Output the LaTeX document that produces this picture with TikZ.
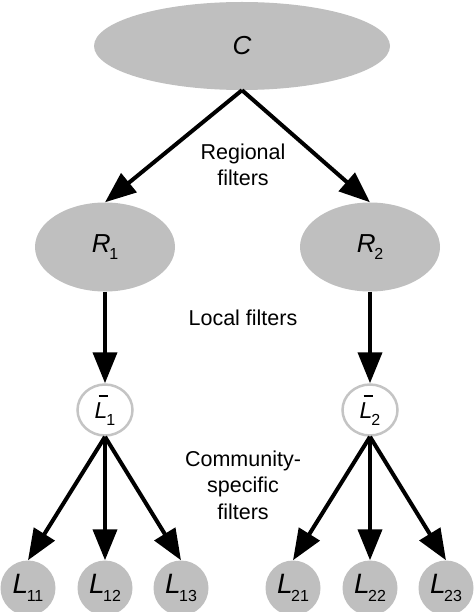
\documentclass[tikz,border=0pt]{standalone}
\usepackage{fontspec}
\setmainfont{Liberation Sans}
\usetikzlibrary{shapes.geometric,arrows.meta}
\definecolor{nodegray}{RGB}{191,191,191}
\definecolor{linegray}{RGB}{196,196,196}
\newcommand{\mysub}[1]{\kern-0.05em\raisebox{-0.3em}{\fontsize{16}{16}\selectfont #1}}
\newcommand{\myLbar}{{\rlap{\kern0.17em\rule[0.94em]{0.4em}{0.1em}}\textit{L}}}
\begin{document}
\begin{tikzpicture}[x=1pt,y=-1pt,
  bignode/.style={ellipse,fill=nodegray,draw=none,inner sep=0pt,font=\fontsize{26}{26}\selectfont},
  leafnode/.style={circle,fill=nodegray,draw=none,inner sep=0pt,minimum size=55pt,font=\fontsize{28}{28}\selectfont},
  midnode/.style={ellipse,fill=white,draw=linegray,line width=2.5pt,inner sep=0pt,minimum width=55pt,minimum height=51pt,font=\fontsize{23}{23}\selectfont},
  lbl/.style={align=center,font=\fontsize{21.5}{26.5}\selectfont},
  arr/.style={line width=4pt,-{Triangle[length=31pt,width=24pt]}}]
\useasboundingbox (0,0) rectangle (474,612);
\node[bignode,minimum width=296pt,minimum height=88pt] (C) at (242,46) {\textit{C}};
\node[bignode,minimum width=140pt,minimum height=89pt] (R1) at (105,247) {\textit{R}\mysub{1}};
\node[bignode,minimum width=140pt,minimum height=89pt] (R2) at (370,247) {\textit{R}\mysub{2}};
\node[midnode] (M1) at (105,410) {\myLbar\mysub{1}};
\node[midnode] (M2) at (370,410) {\myLbar\mysub{2}};
\node[leafnode] (L11) at (28,588) {\textit{L}\mysub{11}};
\node[leafnode] (L12) at (105,588) {\textit{L}\mysub{12}};
\node[leafnode] (L13) at (181,588) {\textit{L}\mysub{13}};
\node[leafnode] (L21) at (293,588) {\textit{L}\mysub{21}};
\node[leafnode] (L22) at (370,588) {\textit{L}\mysub{22}};
\node[leafnode] (L23) at (446,588) {\textit{L}\mysub{23}};
\node[lbl] (t1) at (243,165) {Regional\\filters};
\node[lbl] (t2) at (243,318) {Local filters};
\node[lbl] (t3) at (243,485) {Community-\\specific\\filters};
\draw[arr] (C.south) -- (R1.north);
\draw[arr] (C.south) -- (R2.north);
\draw[arr] (R1.south) -- (M1.north);
\draw[arr] (R2.south) -- (M2.north);
\draw[arr] (M1.south) -- (L11.north);
\draw[arr] (M1.south) -- (L12.north);
\draw[arr] (M1.south) -- (L13.north);
\draw[arr] (M2.south) -- (L21.north);
\draw[arr] (M2.south) -- (L22.north);
\draw[arr] (M2.south) -- (L23.north);
\end{tikzpicture}
\end{document}
